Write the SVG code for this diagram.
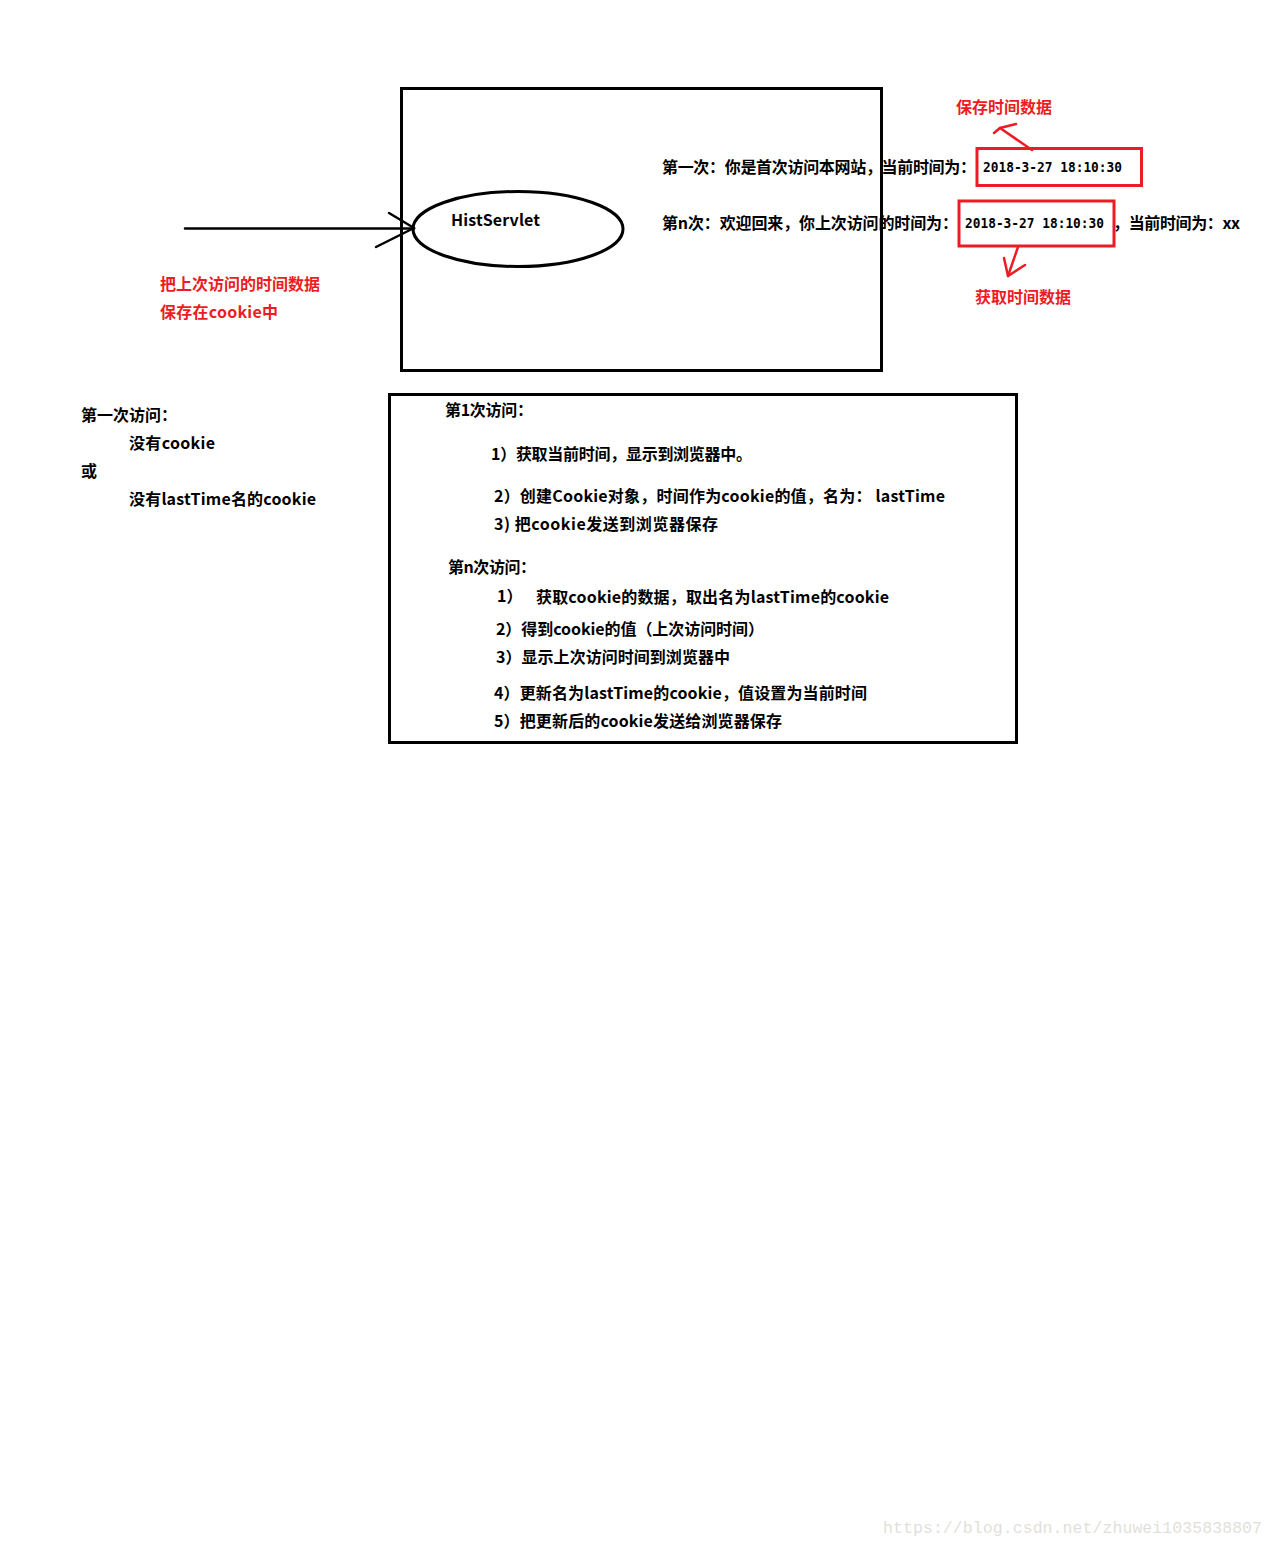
<svg xmlns="http://www.w3.org/2000/svg" width="1274" height="1548" viewBox="0 0 1274 1548">
<style>
  .t { font-family: "Noto Sans CJK SC", "Microsoft YaHei", sans-serif; font-weight: bold; font-size: 16px; fill: #000; }
  .r { font-family: "Noto Sans CJK SC", "Microsoft YaHei", sans-serif; font-weight: bold; font-size: 16px; fill: #ed1c24; }
  .d { font-family: "DejaVu Sans Mono", monospace; font-weight: bold; font-size: 14px; fill: #000; }
  .box { fill: none; stroke: #000; stroke-width: 3; }
  .rbox { fill: none; stroke: #ed1c24; stroke-width: 3; }
  .ln { fill: none; stroke: #000; stroke-width: 2.5; stroke-linecap: round; }
  .rl { fill: none; stroke: #ed1c24; stroke-width: 2.5; stroke-linecap: round; stroke-linejoin: round; }
  .wm { font-family: "Liberation Mono", monospace; font-size: 16.5px; fill: #e2dfda; }
</style>
<rect width="1274" height="1548" fill="#fff"/>

<g id="browser-box">
  <rect class="box" x="401.5" y="88.5" width="480" height="282"/>
  <text class="t" x="662" y="173" textLength="314">第一次：你是首次访问本网站，当前时间为：</text>
  <text class="t" x="662" y="229" textLength="296">第n次：欢迎回来，你上次访问的时间为：</text>
  <text class="t" x="1113" y="229" textLength="127">，当前时间为：xx</text>
</g>

<g id="histservlet">
  <ellipse class="box" cx="518" cy="229" rx="105" ry="37.5"/>
  <text class="t" x="451" y="226" textLength="89" font-family="Noto Sans, sans-serif">HistServlet</text>
</g>

<g id="time-first">
  <rect class="rbox" x="977" y="148.5" width="164.5" height="37"/>
  <text class="d" x="983" y="172" textLength="139" lengthAdjust="spacingAndGlyphs">2018-3-27 18:10:30</text>
</g>

<g id="time-nth">
  <rect class="rbox" x="959" y="201" width="155" height="45"/>
  <text class="d" x="965" y="228" textLength="139" lengthAdjust="spacingAndGlyphs">2018-3-27 18:10:30</text>
</g>

<g id="label-save">
  <text class="r" x="956" y="113" textLength="96">保存时间数据</text>
</g>
<g id="label-get">
  <text class="r" x="975" y="303" textLength="96">获取时间数据</text>
</g>
<g id="label-cookie">
  <text class="r" x="160" y="290" textLength="160">把上次访问的时间数据</text>
  <text class="r" x="160" y="318" textLength="118">保存在cookie中</text>
</g>

<g id="connectors">
  <g id="request-arrow">
    <line class="ln" x1="185" y1="228.5" x2="414" y2="228.5"/>
    <line class="ln" x1="389" y1="213" x2="414" y2="228"/>
    <line class="ln" x1="376" y1="247" x2="414" y2="228"/>
  </g>
  <g id="save-arrow">
    <line class="rl" x1="1032" y1="150" x2="1000" y2="128"/>
    <polyline class="rl" points="1016,124 1000,128 994,133"/>
  </g>
  <g id="get-arrow">
    <line class="rl" x1="1018" y1="247" x2="1008" y2="276"/>
    <polyline class="rl" points="1004,258 1008,276 1025,265"/>
  </g>
</g>

<g id="condition-note">
  <text class="t" x="81" y="421">第一次访问：</text>
  <text class="t" x="129" y="449" textLength="86">没有cookie</text>
  <text class="t" x="81" y="477">或</text>
  <text class="t" x="129" y="505" textLength="187">没有lastTime名的cookie</text>
</g>

<g id="steps-box">
  <rect class="box" x="389.5" y="394.5" width="627" height="348"/>
  <text class="t" x="445" y="416" textLength="88">第1次访问：</text>
  <text class="t" x="491" y="460" textLength="261">1）获取当前时间，显示到浏览器中。</text>
  <text class="t" x="494" y="502" textLength="451">2）创建Cookie对象，时间作为cookie的值，名为： lastTime</text>
  <text class="t" x="494" y="530" textLength="224">3)  把cookie发送到浏览器保存</text>
  <text class="t" x="448" y="573" textLength="88">第n次访问：</text>
  <text class="t" x="497" y="602">1）</text>
  <text class="t" x="536" y="603" textLength="353">获取cookie的数据，取出名为lastTime的cookie</text>
  <text class="t" x="496" y="635" textLength="268">2）得到cookie的值（上次访问时间）</text>
  <text class="t" x="496" y="663" textLength="234">3）显示上次访问时间到浏览器中</text>
  <text class="t" x="494" y="699" textLength="373">4）更新名为lastTime的cookie，值设置为当前时间</text>
  <text class="t" x="494" y="727" textLength="288">5）把更新后的cookie发送给浏览器保存</text>
</g>

<text class="wm" x="883" y="1533" textLength="379">https://blog.csdn.net/zhuwei1035838807</text>
</svg>
